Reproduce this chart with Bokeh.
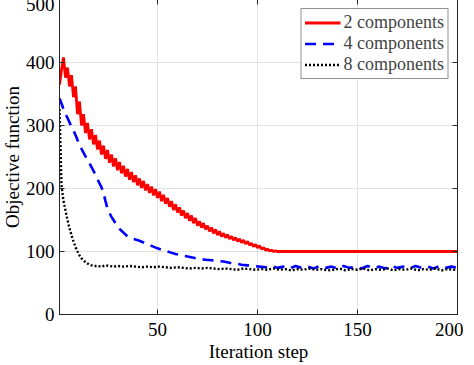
from bokeh.plotting import figure
from bokeh.models import Range1d, FixedTicker, LinearAxis, Legend, LegendItem
from bokeh.embed import file_html
from bokeh.resources import INLINE

# ---------------- data ----------------
red_x = list(range(1, 111)) + [120, 140, 160, 180, 200]
red_y = [365, 388, 408, 376, 392, 362, 380, 345, 362, 318,
         338, 300, 318, 288, 304, 278, 294, 270, 285, 262,
         276, 254, 268, 247, 261, 241, 254, 235, 248, 229,
         242, 224, 236, 219, 231, 214, 226, 210, 221, 205,
         216, 201, 212, 197, 207, 193, 203, 189, 199, 185,
         195, 180, 190, 176, 185, 171, 180, 166, 175, 162,
         170, 157, 165, 153, 161, 149, 157, 145, 153, 141,
         148, 138, 145, 135, 141, 132, 138, 129, 135, 126,
         132, 124, 129, 122, 127, 120, 124, 118, 122, 116,
         120, 114, 118, 112, 116, 110, 113, 108, 111, 106,
         109, 104, 106, 102, 104, 101, 102, 100, 101, 100,
         100, 100, 100, 100, 100]

blue_x = list(range(1, 36)) + [38, 41, 44, 47, 50, 53, 56, 59, 62, 65, 68, 71, 74, 77, 80,
                              83, 86, 89, 92, 95, 98, 101, 104, 107, 110, 113, 116, 119,
                              122, 125, 128, 131, 134, 137, 140, 143, 146, 149, 152, 155,
                              158, 161, 164, 167, 170, 173, 176, 179, 182, 185, 188, 191,
                              194, 197, 200]
blue_y = [343, 335, 326, 318, 312, 305, 298, 292, 285, 277,
          270, 263, 257, 251, 245, 240, 234, 228, 222, 215,
          208, 202, 193, 180, 168, 161, 155, 150, 145, 140,
          136, 133, 130, 127, 124,
          120, 117, 113, 109, 105, 102, 99, 96, 94, 92, 90, 88, 87, 86, 85,
          84, 82, 81, 79, 78, 77, 76, 75, 77, 74, 76, 73, 77, 74, 76,
          73, 77, 74, 76, 73, 77, 74, 76, 73, 77, 74, 76, 73, 77, 74,
          76, 73, 77, 74, 76, 73, 77, 74, 76, 74]

black_x = list(range(1, 21)) + [22, 24, 26, 28, 30, 33, 36, 39, 42, 45, 48, 51, 54, 57,
                                60, 63, 66, 69, 72, 75, 78, 81, 84, 87, 90, 93, 96, 99,
                                102, 105, 108, 111, 114, 117, 120, 123, 126, 129, 132,
                                135, 138, 141, 144, 147, 150, 153, 156, 159, 162, 165,
                                168, 171, 174, 177, 180, 183, 186, 189, 192, 195, 198, 200]
black_y = [326, 205, 180, 165, 150, 137, 126, 116, 107, 100,
           94, 89, 86, 83, 81, 79, 78, 77, 77, 77,
           76, 78, 77, 76, 77, 76, 77, 76, 75, 76, 75, 76, 75, 74,
           75, 74, 73, 74, 73, 74, 73, 72, 73, 72, 71, 73, 72, 71,
           72, 71, 73, 71, 72, 70, 72, 71, 73, 71, 72, 70, 71, 73,
           70, 72, 71, 73, 70, 72, 71, 73, 70, 72, 71, 73, 70, 72,
           71, 73, 70, 72, 71, 72]

x_ticks = [50, 100, 150, 200]
y_ticks = [0, 100, 200, 300, 400, 500]
labels = ["2 components", "4 components", "8 components"]

FONT = "'Liberation Serif', 'Times New Roman', serif"
AX = "#262626"

p = figure(width=465, height=369, output_backend="svg", toolbar_location=None,
           x_range=Range1d(1, 200), y_range=Range1d(0, 500),
           min_border_left=50, min_border_right=6, min_border_top=2, min_border_bottom=52,
           margin=(-3, -7, -23, -2))
p.background_fill_color = "white"
p.border_fill_color = "white"
p.outline_line_color = AX
p.outline_line_width = 1

r_red = p.line(red_x, red_y, line_color="#ff0000", line_width=2.8)
r_blue = p.line(blue_x, blue_y, line_color="#0000ff", line_width=2.6, line_dash="11 7")
r_black = p.line(black_x, black_y, line_color="black", line_width=2.4, line_dash="2 2")

for ax in (p.xaxis[0], p.yaxis[0]):
    ax.major_tick_in = 5
    ax.major_tick_out = 0
    ax.minor_tick_in = 0
    ax.minor_tick_out = 0
    ax.axis_line_color = AX
    ax.major_tick_line_color = AX
    ax.major_label_text_font = FONT
    ax.major_label_text_font_size = "19px"
    ax.major_label_text_color = "black"
    ax.axis_label_text_font = FONT
    ax.axis_label_text_font_size = "19px"
    ax.axis_label_text_font_style = "normal"
    ax.axis_label_text_color = "black"

p.xaxis[0].ticker = FixedTicker(ticks=x_ticks)
p.yaxis[0].ticker = FixedTicker(ticks=y_ticks)
p.xaxis[0].axis_label = "Iteration step"
p.yaxis[0].axis_label = "Objective function"
p.xaxis[0].major_label_standoff = 8
p.xaxis[0].axis_label_standoff = 2
p.yaxis[0].major_label_standoff = 5
p.yaxis[0].axis_label_standoff = 0

for loc, tk in (("right", y_ticks), ("above", x_ticks)):
    a = LinearAxis(ticker=FixedTicker(ticks=tk))
    a.major_tick_in = 5
    a.major_tick_out = 0
    a.minor_tick_in = 0
    a.minor_tick_out = 0
    a.axis_line_color = AX
    a.major_tick_line_color = AX
    a.major_label_overrides = {t: "" for t in tk}
    a.major_label_text_font_size = "1px"
    a.major_label_standoff = 0
    p.add_layout(a, loc)

p.xgrid.ticker = FixedTicker(ticks=x_ticks)
p.ygrid.ticker = FixedTicker(ticks=y_ticks)
p.grid.grid_line_color = "#e3e3e3"
p.grid.grid_line_width = 1

legend = Legend(items=[LegendItem(label=labels[0], renderers=[r_red]),
                       LegendItem(label=labels[1], renderers=[r_blue]),
                       LegendItem(label=labels[2], renderers=[r_black])],
                location="top_right")
legend.margin = 9
legend.padding = 3
legend.spacing = 0
legend.label_height = 21
legend.glyph_height = 21
legend.glyph_width = 36
legend.label_standoff = 3
legend.label_text_font = FONT
legend.label_text_font_size = "18px"
legend.border_line_color = AX
legend.border_line_width = 1
legend.background_fill_alpha = 1
p.add_layout(legend, "center")

open("out.html", "w").write(file_html(p, INLINE))
